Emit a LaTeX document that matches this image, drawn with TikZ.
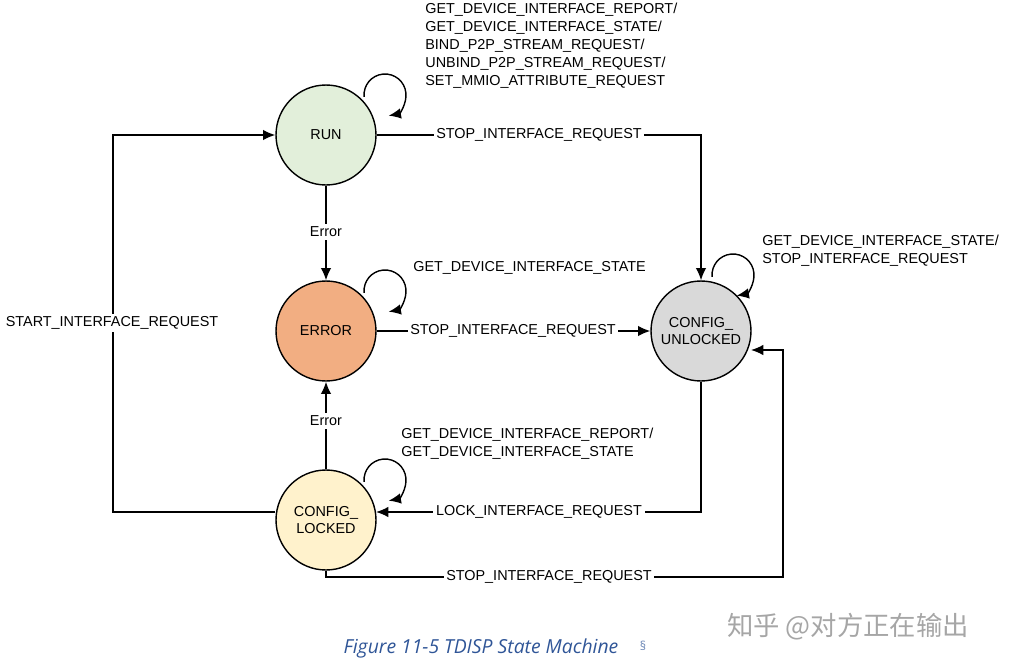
\documentclass[tikz,border=0pt]{standalone}
\usepackage{fontspec}
\setmainfont{Liberation Sans}
\newfontfamily\cjk{Noto Sans CJK SC}
\newfontfamily\capfont{Open Sans}
\usetikzlibrary{arrows.meta,calc}
\definecolor{capblue}{HTML}{2F5597}
\begin{document}
\begin{tikzpicture}[x={(0.02cm,0)},y={(0,-0.02cm)},
  font=\fontsize{8.2}{10.2}\selectfont,
  st/.style={circle,draw,line width=0.8pt,minimum size=2cm,align=center,inner sep=0pt},
  ed/.style={line width=0.8pt,-{Latex[length=7pt,width=6pt]}},
  lbl/.style={fill=white,inner sep=1.5pt},
  txt/.style={anchor=west,align=left,inner sep=0pt}]
\useasboundingbox (0,0) rectangle (1011,666);
\node[st,fill={rgb,255:red,226;green,239;blue,218}] (run) at (326,135) {RUN};
\node[st,fill={rgb,255:red,242;green,174;blue,130}] (err) at (326,331) {ERROR};
\node[st,fill={rgb,255:red,255;green,242;blue,204}] (lck) at (326,520) {CONFIG\_\\LOCKED};
\node[st,fill={rgb,255:red,217;green,217;blue,217}] (unl) at (701,331) {CONFIG\_\\UNLOCKED};
% edges
\draw[ed] (lck.west |- 0,512) -- (113,512) coordinate (c1) -- (113,135) coordinate (c2) -- (run.west);
\node[lbl] (l1) at (112,323) {START\_INTERFACE\_REQUEST};
\draw[ed] (run.east) -- (701,135) coordinate (c3) -- (unl.north);
\node[lbl] (l2) at (539,135) {STOP\_INTERFACE\_REQUEST};
\draw[ed] (run) -- (err);
\node[lbl] (l3) at (326,232) {Error};
\draw[ed] (err) -- (unl);
\node[lbl] (l4) at (513,331) {STOP\_INTERFACE\_REQUEST};
\draw[ed] (lck) -- (err);
\node[lbl] (l5) at (326,421) {Error};
\draw[ed] (unl.south) -- (701,512) coordinate (c4) -- (376,512) coordinate (c5);
\node[lbl] (l6) at (539,512) {LOCK\_INTERFACE\_REQUEST};
\draw[ed] (lck.south) -- (326,577) coordinate (c6) -- (783,577) coordinate (c7) -- (783,350) coordinate (c8) -- (751,350);
\node[lbl] (l7) at (549,577) {STOP\_INTERFACE\_REQUEST};
% self loops
\foreach \n/\dx/\dy in {run/59/-40,err/59/-40,lck/59/-40,unl/32/-56}{
  \draw[ed] ($(\n)+(\dx,\dy)+(175:21)$) arc[start angle=175,end angle=440,radius=21];
}
\node[txt] (t1) at (425,46) {GET\_DEVICE\_INTERFACE\_REPORT/\\GET\_DEVICE\_INTERFACE\_STATE/\\BIND\_P2P\_STREAM\_REQUEST/\\UNBIND\_P2P\_STREAM\_REQUEST/\\SET\_MMIO\_ATTRIBUTE\_REQUEST};
\node[txt] (t2) at (413,268) {GET\_DEVICE\_INTERFACE\_STATE};
\node[txt] (t3) at (762,251) {GET\_DEVICE\_INTERFACE\_STATE/\\STOP\_INTERFACE\_REQUEST};
\node[txt] (t4) at (401,444) {GET\_DEVICE\_INTERFACE\_REPORT/\\GET\_DEVICE\_INTERFACE\_STATE};
\node[text=capblue,font=\capfont\itshape\fontsize{11}{13}\selectfont] (cap) at (481,648) {Figure 11-5 TDISP State Machine};
\node[text=capblue!70,font=\capfont\fontsize{7}{8}\selectfont] (sec) at (643,646) {§};
\node[text=gray!70,font=\cjk\fontsize{15}{17}\selectfont] (wm) at (848,627) {知乎 @对方正在输出};
\end{tikzpicture}
\end{document}
